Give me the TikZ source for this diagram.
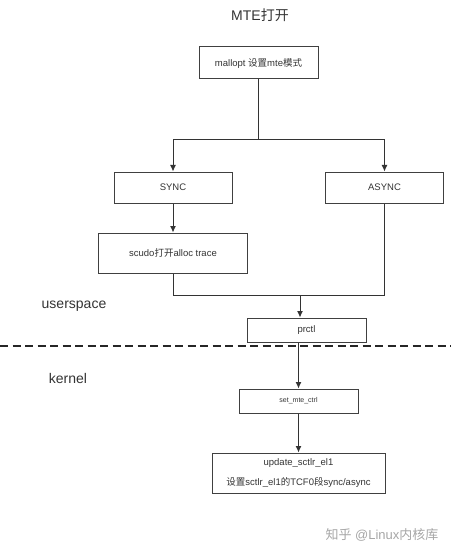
\documentclass[tikz,border=0pt]{standalone}
\usepackage{fontspec}
\setmainfont{Liberation Sans}
\newfontfamily\cjk{Noto Sans CJK SC}
\usepackage{xcolor}
\usepackage{tikz}
\usetikzlibrary{arrows.meta,positioning,calc}

\begin{document}
\begin{tikzpicture}[auto, x=1pt, y=1pt, >={Latex[length=6.5pt,width=6pt]}]
    \tikzstyle{block} = [draw=black!75, line width=1pt, rectangle, inner sep=0pt, minimum height=31pt, minimum width=118pt, text=black!80, font=\fontsize{9.5}{11}\selectfont]
    \tikzstyle{line} = [draw=black!80, ->, line width=1pt]
    \tikzstyle{plain} = [draw=black!80, line width=1pt]
    \tikzstyle{side} = [text=black!80, font=\fontsize{14}{16}\selectfont]

    \useasboundingbox (0,0) rectangle (451,-556);

    \node [side] (title) at (260,-15) {MTE{\cjk 打开}};
    \node [block, minimum width=119pt, minimum height=32pt] (mallopt) at (258.5,-63) {mallopt {\cjk 设置}mte{\cjk 模式}};
    \node [block] (sync) at (173,-187.5) {SYNC};
    \node [block] (async) at (384.5,-187.5) {ASYNC};
    \node [block, below=29pt of sync, minimum width=149pt, minimum height=40pt] (scudo) {scudo{\cjk 打开}alloc trace};
    \node [block, minimum width=119pt, minimum height=24pt] (prctl) at (306.5,-330) {prctl};
    \node [block, minimum width=119pt, minimum height=24pt, font=\fontsize{7}{8}\selectfont] (setmte) at (298.5,-401) {set\_mte\_ctrl};
    \node [block, below=39pt of setmte, minimum width=173pt, minimum height=40pt, align=center, font=\fontsize{9.5}{20}\selectfont] (update) {update\_sctlr\_el1\\{\cjk 设置}sctlr\_el1{\cjk 的}TCF0{\cjk 段}sync/async};

    \coordinate (fork) at (258.5,-140);
    \coordinate (join) at (300,-295);

    \draw [plain] (mallopt) -- (fork);
    \draw [line] (fork) -| (sync);
    \draw [line] (fork) -| (async);
    \draw [line] (sync) -- (scudo);
    \draw [plain] (scudo) |- (join);
    \draw [plain] (async) |- (join);
    \draw [line] (join) -- (join |- prctl.north);
    \draw [line] (setmte.north |- prctl.south) -- (setmte);
    \draw [line] (setmte) -- (update);

    % userspace / kernel
    \coordinate (dl) at (0,-346);
    \coordinate (dr) at (451,-346);
    \draw [draw=black!85, line width=1.4pt, dash pattern=on 8pt off 4.5pt] (dl) -- (dr);
    \node [side] (user) at (74,-306) {userspace};
    \node [side] (kern) at (68,-378) {kernel};

    \node [text=black!35, font=\fontsize{13}{15}\selectfont] (mark) at (382,-535) {{\cjk 知乎} @Linux{\cjk 内核库}};
\end{tikzpicture}
\end{document}
